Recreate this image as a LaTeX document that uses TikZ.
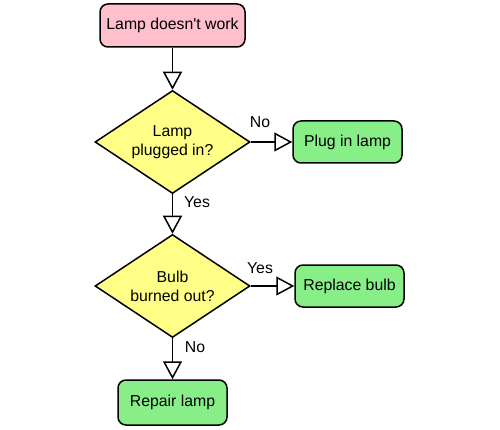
\documentclass[tikz,border=0pt]{standalone}
\usepackage{fontspec}
\setmainfont{Liberation Sans}
\usepackage{tikz}
\usetikzlibrary{shapes.geometric, arrows.meta}

\definecolor{lamppink}{HTML}{FFC0CB}
\definecolor{lampyellow}{HTML}{FFFF88}
\definecolor{lampgreen}{HTML}{88EE88}

\tikzset{
	box/.style={draw, line width=1.5pt, rounded corners=8pt, align=center},
	question/.style={diamond, draw, line width=1.5pt, fill=lampyellow, aspect=1.5, inner sep=0pt, align=center, minimum width=155pt, minimum height=103pt},
	flow/.style={line width=1.5pt, -{Triangle[open, length=18pt, width=19pt]}},
	answer/.style={inner sep=0pt}
}

\begin{document}
\begin{tikzpicture}[x=1pt, y=-1pt, font=\fontsize{15.8}{19}\selectfont]
	\useasboundingbox (0,0) rectangle (500,430);
	
	\node[box, fill=lamppink, minimum width=145pt, minimum height=43pt] (broken) at (172.5,25.5) {Lamp doesn\textquotesingle t work};
	\node[question] (plugged) at (172.5,142) {Lamp\\plugged in?};
	\node[box, fill=lampgreen, minimum width=109pt, minimum height=42pt] (plugin) at (347.5,142) {Plug in lamp};
	\node[question] (burned) at (172.5,286) {Bulb\\burned out?};
	\node[box, fill=lampgreen, minimum width=109pt, minimum height=42pt] (replace) at (349.5,286) {Replace bulb};
	\node[box, fill=lampgreen, minimum width=109pt, minimum height=45pt] (repair) at (172.5,402.5) {Repair lamp};
	
	\draw[flow] (broken) -- (plugged);
	\draw[flow] (plugged) -- (plugin);
	\draw[flow] (plugged) -- (burned);
	\draw[flow] (burned) -- (replace);
	\draw[flow] (burned) -- (repair);
	
	\node[answer] (nolabel1) at (260,122) {No};
	\node[answer] (yeslabel1) at (197,202) {Yes};
	\node[answer] (yeslabel2) at (260,268) {Yes};
	\node[answer] (nolabel2) at (195,347) {No};
\end{tikzpicture}
\end{document}
